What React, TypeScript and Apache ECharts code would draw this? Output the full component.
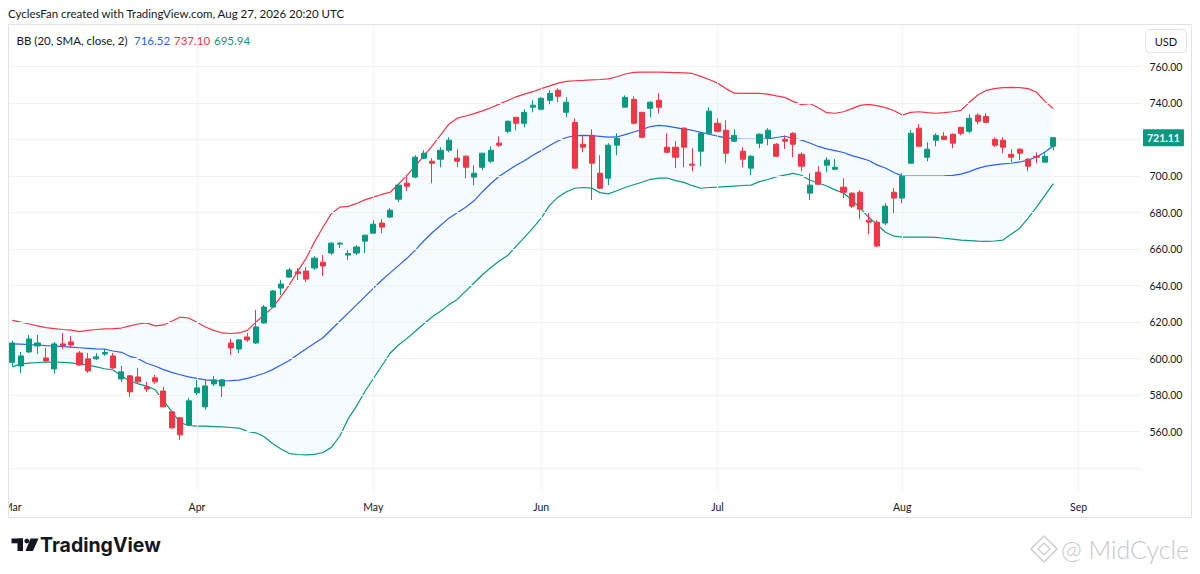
import React, { useEffect, useRef } from "react";
import * as echarts from "echarts";

// ---------- categories (trading days) ----------
const FIRST_DAY = "2026-03-02";
const LAST_DAY = "2026-09-11";
const HOLIDAYS = ["2026-04-03", "2026-05-25", "2026-06-19", "2026-07-03", "2026-09-07"];
const MONTH_NAMES = ["Jan", "Feb", "Mar", "Apr", "May", "Jun", "Jul", "Aug", "Sep", "Oct", "Nov", "Dec"];

// ---------- price axis (720.00 is hidden behind the last-price tag) ----------
const PRICE_TICKS = [560, 580, 600, 620, 640, 660, 680, 700, 740, 760];
const GRID_LEVELS = [540, 560, 580, 600, 620, 640, 660, 680, 700, 720, 740, 760];
const Y_MIN = 527.5;
const Y_MAX = 782.85;

// ---------- OHLC (Mar 2 .. Aug 27, 2026) ----------
const OPEN = [
  598.0, 596.0, 603.7, 607.0, 600.4, 594.4, 608.1, 609.2, 603.1, 599.9,
  599.9, 602.6, 601.5, 588.9, 590.6, 590.0, 584.5, 589.5, 582.3, 570.9,
  567.6, 563.7, 581.3, 573.6, 586.2, 585.1, 608.6, 605.3, 611.9, 608.6,
  619.6, 628.3, 638.7, 644.7, 647.6, 648.0, 649.7, 652.9, 657.9, 662.8,
  656.8, 657.9, 664.4, 668.8, 674.3, 677.6, 687.4, 696.2, 699.5, 709.9,
  708.2, 709.3, 714.2, 709.9, 710.9, 699.5, 704.9, 708.2, 718.1, 724.6,
  732.3, 729.0, 737.8, 736.7, 741.6, 747.1, 735.0, 729.5, 717.5, 722.4,
  701.6, 698.9, 717.0, 737.8, 742.1, 735.0, 737.2, 741.6, 715.9, 715.9,
  726.3, 706.6, 713.7, 723.5, 729.0, 725.2, 719.2, 713.7, 704.4, 718.1,
  720.8, 717.5, 720.2, 723.5, 712.0, 690.7, 702.2, 706.0, 703.8, 694.0,
  690.7, 691.2, 675.9, 674.8, 674.3, 691.2, 688.0, 707.1, 726.3, 710.4,
  719.7, 721.9, 723.0, 726.8, 724.6, 733.4, 732.8, 720.2, 719.7, 712.0,
  714.8, 709.3, 710.9, 707.7, 716.4,
];
const CLOSE = [
  608.6, 601.5, 610.8, 608.6, 598.8, 608.1, 607.0, 607.5, 596.6, 593.3,
  601.0, 603.4, 594.9, 592.8, 581.8, 587.3, 583.4, 587.3, 573.6, 562.1,
  558.3, 576.9, 584.0, 585.1, 588.4, 588.4, 605.9, 610.3, 610.3, 617.4,
  628.3, 637.1, 640.9, 648.6, 646.7, 643.6, 655.1, 650.8, 663.3, 663.3,
  657.6, 661.2, 667.7, 673.7, 672.1, 681.4, 695.1, 694.5, 710.4, 712.6,
  707.1, 714.2, 719.7, 708.2, 704.9, 701.6, 712.6, 714.2, 717.0, 730.1,
  729.0, 735.0, 738.9, 742.7, 745.4, 743.8, 740.5, 704.4, 715.9, 707.1,
  693.4, 717.0, 720.8, 743.2, 729.0, 721.3, 740.5, 737.8, 713.1, 710.4,
  715.9, 706.0, 723.5, 735.6, 724.6, 712.6, 722.4, 709.3, 710.9, 723.0,
  725.2, 710.9, 719.2, 717.5, 705.5, 695.1, 695.6, 708.8, 704.9, 691.2,
  683.6, 681.9, 674.8, 661.7, 683.6, 688.0, 700.0, 723.5, 716.4, 714.8,
  722.4, 720.2, 718.1, 723.5, 731.7, 730.1, 729.5, 717.0, 715.9, 710.4,
  712.6, 705.5, 710.4, 710.9, 721.11,
];
const LOW = [
  596.0, 592.2, 603.1, 602.6, 598.2, 591.7, 605.3, 605.9, 596.0, 592.2,
  599.3, 601.5, 594.4, 587.3, 579.1, 586.7, 581.8, 586.2, 573.6, 561.6,
  555.5, 563.2, 580.2, 572.0, 585.1, 579.1, 602.1, 603.1, 609.2, 608.1,
  619.3, 628.0, 634.9, 644.5, 643.1, 642.0, 648.6, 645.3, 656.8, 660.6,
  654.0, 656.8, 657.9, 668.8, 668.8, 677.0, 685.8, 691.8, 698.9, 709.3,
  696.2, 704.9, 713.1, 704.9, 698.9, 695.1, 703.3, 707.1, 715.9, 723.5,
  725.2, 726.8, 735.0, 736.1, 739.4, 740.5, 732.3, 704.4, 713.1, 686.9,
  692.9, 695.1, 711.5, 737.8, 728.4, 720.8, 732.3, 734.5, 712.6, 704.4,
  704.9, 702.7, 705.5, 723.5, 724.1, 707.1, 718.6, 704.9, 700.5, 715.3,
  717.0, 710.4, 714.8, 710.4, 702.7, 686.9, 695.1, 702.2, 703.3, 688.0,
  682.5, 676.5, 668.3, 661.1, 673.2, 679.8, 685.2, 707.1, 716.4, 708.2,
  716.4, 719.7, 715.3, 722.4, 723.5, 728.5, 729.0, 715.9, 712.6, 707.7,
  708.8, 702.7, 707.1, 707.7, 714.2,
];
const HIGH = [
  610.0, 603.7, 613.0, 613.0, 605.9, 609.2, 614.1, 612.4, 604.2, 603.1,
  603.1, 605.3, 603.1, 596.0, 591.1, 594.9, 587.3, 591.1, 584.5, 571.5,
  568.1, 578.5, 588.4, 588.4, 590.6, 588.9, 610.8, 610.8, 614.1, 626.7,
  629.4, 637.6, 643.1, 649.7, 649.7, 650.2, 656.2, 656.8, 663.9, 663.9,
  659.5, 662.2, 667.7, 675.9, 676.5, 682.5, 696.2, 700.5, 711.5, 714.2,
  709.9, 715.9, 721.3, 714.8, 711.5, 706.0, 712.6, 716.4, 721.9, 730.6,
  732.3, 736.7, 741.6, 743.2, 747.1, 748.2, 743.2, 731.7, 722.4, 725.7,
  711.5, 718.1, 723.5, 744.3, 743.8, 735.0, 741.0, 745.4, 723.5, 719.2,
  726.8, 715.3, 724.1, 737.8, 731.7, 730.6, 725.7, 715.9, 711.5, 723.5,
  726.3, 718.1, 722.4, 724.1, 713.1, 701.6, 705.5, 710.4, 709.3, 698.9,
  691.2, 692.3, 679.8, 675.9, 685.2, 693.4, 701.6, 725.2, 728.5, 718.6,
  723.5, 724.1, 723.5, 726.8, 733.9, 734.5, 734.5, 721.3, 721.3, 714.8,
  715.3, 709.9, 713.1, 712.6, 721.3,
];

// ---------- Bollinger Bands (20, SMA, close, 2) ----------
const UPPER = [
  621.0, 620.0, 619.0, 618.0, 617.0, 616.5, 616.0, 615.7, 614.8, 615.5,
  616.0, 616.3, 616.5, 616.8, 618.0, 619.0, 619.6, 618.0, 618.5, 620.5,
  622.8, 622.3, 620.0, 617.4, 615.5, 614.1, 613.8, 614.1, 615.5, 620.0,
  624.0, 628.0, 634.0, 640.5, 648.0, 655.0, 664.0, 672.0, 679.5, 683.0,
  683.5, 685.0, 687.0, 688.5, 690.0, 691.2, 695.7, 700.5, 705.5, 711.0,
  716.5, 722.5, 728.5, 731.8, 733.0, 734.3, 735.8, 737.5, 739.5, 741.5,
  743.5, 745.0, 746.3, 748.0, 749.5, 751.0, 752.0, 752.3, 752.5, 752.8,
  753.0, 753.3, 754.5, 756.0, 756.9, 757.0, 757.0, 757.0, 756.9, 756.8,
  756.6, 756.3, 754.7, 753.0, 751.0, 748.0, 745.5, 745.4, 745.4, 745.4,
  745.0, 744.0, 743.2, 741.0, 739.2, 739.8, 737.5, 734.8, 734.5, 735.3,
  737.0, 738.8, 739.4, 738.7, 737.6, 736.0, 733.5, 735.0, 735.3, 734.8,
  734.5, 734.8, 735.3, 736.1, 740.5, 744.5, 747.0, 748.0, 748.5, 748.7,
  748.5, 748.0, 746.0, 741.0, 737.1,
];
const BASIS = [
  608.1, 608.0, 607.7, 607.5, 607.2, 607.0, 606.6, 606.3, 606.0, 605.7,
  605.4, 605.2, 604.2, 603.5, 601.3, 600.0, 597.5, 596.0, 594.0, 592.5,
  591.2, 590.0, 589.2, 588.4, 588.0, 587.8, 588.0, 588.3, 589.2, 590.5,
  592.0, 594.0, 596.5, 599.0, 602.3, 605.5, 608.5, 611.5, 616.0, 620.5,
  625.0, 629.5, 634.0, 638.5, 643.0, 647.0, 651.0, 655.0, 659.5, 664.5,
  669.0, 673.0, 677.0, 680.0, 683.0, 686.5, 691.5, 696.0, 700.0, 703.0,
  706.0, 708.5, 711.5, 714.0, 716.8, 719.3, 721.2, 722.2, 722.4, 722.2,
  721.8, 721.4, 721.5, 722.8, 724.2, 725.5, 727.2, 727.8, 727.4, 726.6,
  725.8, 725.2, 724.0, 723.0, 722.0, 721.0, 720.4, 720.2, 720.2, 720.2,
  720.5, 721.2, 721.9, 720.8, 719.8, 718.2, 716.3, 715.0, 714.0, 713.0,
  711.3, 710.0, 708.6, 706.2, 704.5, 702.0, 700.2, 700.0, 700.0, 700.0,
  700.0, 700.2, 700.5, 701.1, 702.5, 704.3, 705.5, 706.2, 706.8, 707.1,
  707.8, 708.8, 710.5, 713.3, 716.52,
];
const LOWER = [
  595.5, 597.0, 597.6, 597.9, 598.1, 598.2, 598.0, 597.7, 597.2, 596.5,
  595.5, 594.5, 593.8, 590.5, 587.8, 586.2, 585.0, 583.0, 577.0, 571.0,
  565.0, 563.4, 563.1, 563.0, 562.8, 562.6, 562.3, 562.0, 560.2, 559.4,
  557.2, 553.5, 550.5, 548.0, 547.5, 547.3, 547.6, 548.6, 551.4, 557.5,
  567.0, 574.0, 582.0, 589.0, 596.0, 603.0, 607.5, 611.0, 615.0, 619.0,
  622.8, 626.0, 629.5, 632.5, 637.0, 641.5, 646.0, 650.0, 653.5, 656.5,
  661.5, 666.5, 671.5, 677.0, 684.0, 688.5, 691.5, 693.4, 693.8, 693.5,
  691.0, 690.3, 692.0, 693.8, 695.3, 696.7, 698.3, 698.9, 699.0, 697.6,
  696.6, 694.8, 693.4, 693.8, 694.0, 694.3, 694.6, 694.9, 695.1, 697.0,
  698.2, 699.6, 700.6, 701.5, 700.5, 697.8, 696.3, 694.6, 692.5, 690.8,
  687.0, 682.5, 677.5, 673.5, 669.3, 667.2, 666.6, 666.6, 666.6, 666.6,
  666.5, 666.0, 665.5, 665.0, 664.7, 664.4, 664.3, 664.5, 665.0, 668.3,
  671.5, 677.0, 683.0, 689.5, 695.94,
];

const UP = "#089981";
const DOWN = "#f23645";
const BLUE = "#2962ff";
const TEXT = "#131722";
const GRID = "#eff2f7";
const BORDER = "#e0e3eb";
const FONT = "Lato, 'Liberation Sans', sans-serif";

function buildDates(): string[] {
  const out: string[] = [];
  const d = new Date(FIRST_DAY + "T00:00:00Z");
  const end = new Date(LAST_DAY + "T00:00:00Z");
  while (d.getTime() <= end.getTime()) {
    const wd = d.getUTCDay();
    const s = d.toISOString().slice(0, 10);
    if (wd !== 0 && wd !== 6 && HOLIDAYS.indexOf(s) < 0) out.push(s);
    d.setUTCDate(d.getUTCDate() + 1);
  }
  return out;
}

export default function App() {
  const ref = useRef<HTMLDivElement>(null);

  useEffect(() => {
    document.body.style.margin = "0";
    const el = ref.current;
    if (!el) return;
    const chart = echarts.init(el, null, { renderer: "svg" });

    const dates = buildDates();
    const isMonthStart = (i: number) =>
      i === 0 || dates[i].slice(5, 7) !== dates[i - 1].slice(5, 7);
    const monthStarts = dates.filter((_, i) => i > 0 && isMonthStart(i));
    const candles = OPEN.map((o, i) => [o, CLOSE[i], LOW[i], HIGH[i]]);
    const bandWidth = LOWER.map((l, i) => +(UPPER[i] - l).toFixed(2));
    const last = CLOSE.length - 1;

    const gridLines = [
      ...GRID_LEVELS.map((v) => ({ yAxis: v })),
      ...monthStarts.map((d) => ({ xAxis: d })),
    ];

    const legendFont = "11.5px " + FONT;

    const option: any = {
      animation: false,
      backgroundColor: "#ffffff",
      textStyle: { fontFamily: FONT },
      grid: { left: 4.79, top: 25, width: 1136.7, height: 466, containLabel: false },
      xAxis: {
        type: "category",
        data: dates,
        boundaryGap: true,
        axisLine: { show: false },
        axisTick: { show: false },
        splitLine: { show: false },
        axisLabel: {
          interval: (i: number) => isMonthStart(i),
          formatter: (v: string) => MONTH_NAMES[parseInt(v.slice(5, 7), 10) - 1],
          color: TEXT,
          fontSize: 10.5,
          fontFamily: FONT,
          margin: 10,
        },
      },
      yAxis: {
        type: "value",
        position: "right",
        min: Y_MIN,
        max: Y_MAX,
        axisLine: { show: false },
        axisTick: { show: false },
        splitLine: { show: false },
        axisLabel: {
          customValues: PRICE_TICKS,
          formatter: (v: number) => v.toFixed(2),
          color: TEXT,
          fontSize: 10.5,
          fontFamily: FONT,
          margin: 8,
        },
      },
      series: [
        {
          name: "lowerBase",
          type: "line",
          data: LOWER,
          stack: "bb",
          symbol: "none",
          silent: true,
          lineStyle: { opacity: 0 },
          z: 1,
          markLine: {
            silent: true,
            symbol: ["none", "none"],
            label: { show: false },
            lineStyle: { color: GRID, width: 1, type: "solid" },
            data: gridLines,
          },
        },
        {
          name: "bandFill",
          type: "line",
          data: bandWidth,
          stack: "bb",
          symbol: "none",
          silent: true,
          lineStyle: { opacity: 0 },
          areaStyle: { color: "rgba(33,150,243,0.055)" },
          z: 1,
        },
        {
          name: "Upper",
          type: "line",
          data: UPPER,
          symbol: "none",
          silent: true,
          lineStyle: { color: DOWN, width: 1.2 },
          z: 2,
        },
        {
          name: "Basis",
          type: "line",
          data: BASIS,
          symbol: "none",
          silent: true,
          lineStyle: { color: BLUE, width: 1.2 },
          z: 2,
        },
        {
          name: "Lower",
          type: "line",
          data: LOWER,
          symbol: "none",
          silent: true,
          lineStyle: { color: UP, width: 1.2 },
          z: 2,
        },
        {
          name: "Price",
          type: "candlestick",
          data: candles,
          barWidth: 5.6,
          z: 5,
          itemStyle: {
            color: UP,
            color0: DOWN,
            borderColor: UP,
            borderColor0: DOWN,
            borderWidth: 1,
          },
        },
        {
          // last-price tag on the price scale
          name: "lastPrice",
          type: "line",
          data: [],
          symbol: "none",
          silent: true,
          z: 6,
          markLine: {
            silent: true,
            symbol: ["none", "none"],
            lineStyle: { color: "rgba(0,0,0,0)", width: 0, type: "solid" },
            label: {
              show: true,
              position: "end",
              distance: 1.5,
              formatter: () => CLOSE[last].toFixed(2),
              backgroundColor: UP,
              color: "#ffffff",
              opacity: 1,
              fontWeight: "bold",
              fontSize: 10.5,
              fontFamily: FONT,
              padding: [3, 4, 3, 4],
              borderRadius: 1,
            },
            data: [{ yAxis: CLOSE[last] }],
          },
        },
      ],
      graphic: [
        // left clip cover (the pane starts at x = 8)
        { type: "rect", z: 100, shape: { x: 0, y: 20, width: 8, height: 500 }, style: { fill: "#ffffff" } },
        // pane frame
        {
          type: "rect",
          z: 101,
          shape: { x: 8.5, y: 24.5, width: 1183, height: 493 },
          style: { fill: "none", stroke: BORDER, lineWidth: 1 },
        },
        // header
        {
          type: "text",
          z: 102,
          x: 8,
          y: 13.5,
          style: {
            text: "CyclesFan created with TradingView.com, Aug 27, 2026 20:20 UTC",
            fill: TEXT,
            font: "11.5px " + FONT,
            align: "left",
            verticalAlign: "middle",
          },
        },
        // indicator legend
        {
          type: "text",
          z: 102,
          x: 16.5,
          y: 40,
          style: { text: "BB (20, SMA, close, 2)", fill: TEXT, font: legendFont, align: "left", verticalAlign: "middle" },
        },
        {
          type: "text",
          z: 102,
          x: 134,
          y: 40,
          style: { text: BASIS[last].toFixed(2), fill: BLUE, font: legendFont, align: "left", verticalAlign: "middle" },
        },
        {
          type: "text",
          z: 102,
          x: 174,
          y: 40,
          style: { text: UPPER[last].toFixed(2), fill: DOWN, font: legendFont, align: "left", verticalAlign: "middle" },
        },
        {
          type: "text",
          z: 102,
          x: 214,
          y: 40,
          style: { text: LOWER[last].toFixed(2), fill: UP, font: legendFont, align: "left", verticalAlign: "middle" },
        },
        // currency box
        {
          type: "rect",
          z: 102,
          shape: { x: 1145.5, y: 29.5, width: 41, height: 23, r: 4 },
          style: { fill: "#ffffff", stroke: BORDER, lineWidth: 1 },
        },
        {
          type: "text",
          z: 103,
          x: 1166,
          y: 41,
          style: { text: "USD", fill: TEXT, font: "11px " + FONT, align: "center", verticalAlign: "middle" },
        },
        // TradingView logo mark
        { type: "rect", z: 102, shape: { x: 11.5, y: 538.5, width: 11.5, height: 4.8 }, style: { fill: TEXT } },
        { type: "rect", z: 102, shape: { x: 17.5, y: 538.5, width: 5.5, height: 12.5 }, style: { fill: TEXT } },
        { type: "circle", z: 102, shape: { cx: 26.8, cy: 541, r: 2.4 }, style: { fill: TEXT } },
        {
          type: "polygon",
          z: 102,
          shape: { points: [[30.5, 538.5], [38.5, 538.5], [33, 551], [25.5, 551]] },
          style: { fill: TEXT },
        },
        {
          type: "text",
          z: 102,
          x: 40,
          y: 545,
          style: { text: "TradingView", fill: TEXT, font: "bold 19.5px Inter, " + FONT, align: "left", verticalAlign: "middle" },
        },
        // watermark
        {
          type: "polygon",
          z: 102,
          shape: { points: [[1044, 536], [1057, 549], [1044, 562], [1031, 549]] },
          style: { fill: "none", stroke: "#cfcfcf", lineWidth: 1.5 },
        },
        {
          type: "polygon",
          z: 102,
          shape: { points: [[1044, 543], [1050, 549], [1044, 555], [1038, 549]] },
          style: { fill: "none", stroke: "#cfcfcf", lineWidth: 1.3 },
        },
        {
          type: "text",
          z: 102,
          x: 1061,
          y: 549,
          style: { text: "@ MidCycle", fill: "#c8c8c8", font: "300 25px " + FONT, align: "left", verticalAlign: "middle" },
        },
      ],
    };

    chart.setOption(option);
    return () => chart.dispose();
  }, []);

  return (
    <div
      ref={ref}
      style={{ position: "fixed", left: 0, top: 0, width: 1200, height: 574, background: "#ffffff" }}
    />
  );
}
